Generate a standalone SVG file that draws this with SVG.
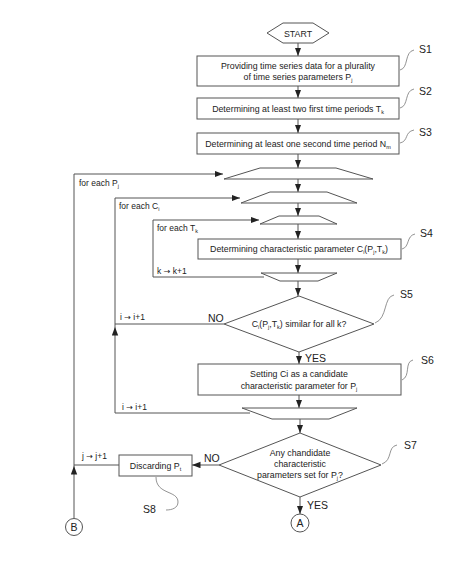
<svg xmlns="http://www.w3.org/2000/svg" width="474" height="572" viewBox="0 0 474 572">
<defs>
<marker id="ah" markerUnits="userSpaceOnUse" markerWidth="9" markerHeight="7" refX="8.5" refY="3.2" orient="auto">
<path d="M0,0 L8.5,3.2 L0,6.4 z" fill="#222"/>
</marker>
<style>
.s{fill:#fff;stroke:#555;stroke-width:1}
.c{fill:none;stroke:#555;stroke-width:1}
.a{fill:none;stroke:#555;stroke-width:1;marker-end:url(#ah)}
.q{fill:none;stroke:#777;stroke-width:0.8}
text{font-family:"Liberation Sans",Arial,sans-serif;fill:#222}
.t{font-size:8.8px;text-anchor:middle}
.l{font-size:8.5px}
.b{font-size:10.5px}
.sub{font-size:5.5px}
.ar{font-family:"DejaVu Sans",sans-serif;font-size:8px}
</style>
</defs>
<rect width="474" height="572" fill="#fff"/>

<g id="connectors">
<line class="a" x1="298" y1="43" x2="298" y2="56"/>
<line class="a" x1="298" y1="86" x2="298" y2="98"/>
<line class="a" x1="298" y1="119" x2="298" y2="133"/>
<line class="a" x1="298" y1="154" x2="298" y2="168"/>
<line class="a" x1="298" y1="179" x2="298" y2="192"/>
<line class="a" x1="298" y1="203" x2="298" y2="216"/>
<line class="a" x1="298" y1="224" x2="298" y2="239"/>
<line class="a" x1="298" y1="259" x2="298" y2="273"/>
<line class="a" x1="298" y1="281" x2="298" y2="296"/>
<line class="a" x1="299" y1="352" x2="299" y2="364"/>
<line class="a" x1="299" y1="395" x2="299" y2="408"/>
<line class="a" x1="300" y1="419" x2="300" y2="433"/>
<line class="a" x1="300" y1="497" x2="300" y2="514"/>
<line class="a" x1="219" y1="465" x2="192" y2="465"/>
<!-- Pj loop -->
<line class="a" x1="74" y1="518" x2="74" y2="466"/>
<polyline class="a" points="74,466 74,174 223,174"/>
<line class="c" x1="119" y1="465" x2="74" y2="465"/>
<!-- Ci loop -->
<polyline class="a" points="250,413 115,413 115,327"/>
<polyline class="a" points="115,327 115,198 240,198"/>
<line class="c" x1="224" y1="324" x2="115" y2="324"/>
<!-- Tk loop -->
<polyline class="a" points="264,277 153,277 153,220 259,220"/>
</g>

<g id="start">
<polygon class="s" points="267,33 283,23 313,23 329,33 313,43 283,43"/>
<text class="t" x="298" y="36.5">START</text>
</g>

<g id="s1">
<rect class="s" x="197" y="56" width="202" height="30"/>
<text class="t" x="298" y="68.5">Providing time series data for a plurality</text>
<text class="t" x="298" y="79.5">of time series parameters P<tspan class="sub" dy="2">j</tspan></text>
<path class="q" d="M400,70 C409,68 404,52 414,50"/>
<text class="b" x="419" y="53">S1</text>
</g>

<g id="s2">
<rect class="s" x="197" y="98" width="202" height="21"/>
<text class="t" x="298" y="111.5">Determining at least two first time periods T<tspan class="sub" dy="2">k</tspan></text>
<path class="q" d="M400,108 C409,106 404,91 414,89"/>
<text class="b" x="419" y="95">S2</text>
</g>

<g id="s3">
<rect class="s" x="197" y="133" width="202" height="21"/>
<text class="t" x="298" y="146.5">Determining at least one second time period N<tspan class="sub" dy="2">m</tspan></text>
<path class="q" d="M400,143 C409,141 404,132 414,130"/>
<text class="b" x="419" y="136">S3</text>
</g>

<g id="loopPj">
<polygon class="s" points="260,168 336,168 373,179 224,179"/>
<text class="l" x="79" y="186">for each P<tspan class="sub" dy="2">j</tspan></text>
</g>

<g id="loopCi">
<polygon class="s" points="270,192 327,192 357,203 241,203"/>
<text class="l" x="119" y="209">for each C<tspan class="sub" dy="2">i</tspan></text>
</g>

<g id="loopTk">
<polygon class="s" points="279,216 319,216 337,224 260,224"/>
<text class="l" x="157" y="231">for each T<tspan class="sub" dy="2">k</tspan></text>
</g>

<g id="s4">
<rect class="s" x="198" y="239" width="203" height="20"/>
<text class="t" x="299" y="251.5">Determining characteristic parameter C<tspan class="sub" dy="2">i</tspan><tspan dy="-2">(P</tspan><tspan class="sub" dy="2">j</tspan><tspan dy="-2">,T</tspan><tspan class="sub" dy="2">k</tspan><tspan dy="-2">)</tspan></text>
<path class="q" d="M402,249 C410,247 406,236 415,234"/>
<text class="b" x="420" y="237">S4</text>
</g>

<g id="endTk">
<polygon class="s" points="261,273 337,273 318,281 280,281"/>
<text class="l" x="157" y="274">k <tspan class="ar">→</tspan> k+1</text>
</g>

<g id="s5">
<polygon class="s" points="299,296 374,324 299,352 224,324"/>
<text class="t" x="299" y="327">C<tspan class="sub" dy="2">i</tspan><tspan dy="-2">(P</tspan><tspan class="sub" dy="2">j</tspan><tspan dy="-2">,T</tspan><tspan class="sub" dy="2">k</tspan><tspan dy="-2">) similar for all k?</tspan></text>
<path class="q" d="M375,323 C388,318 383,297 394,295"/>
<text class="b" x="400" y="298">S5</text>
<text class="b" x="208" y="322">NO</text>
<text class="l" x="120" y="320">i <tspan class="ar">→</tspan> i+1</text>
<text class="b" x="305" y="362">YES</text>
</g>

<g id="s6">
<rect class="s" x="198" y="364" width="203" height="31"/>
<text class="t" x="299" y="377">Setting Ci as a candidate</text>
<text class="t" x="299" y="388.5">characteristic parameter for P<tspan class="sub" dy="2">j</tspan></text>
<path class="q" d="M402,380 C411,376 404,362 413,360"/>
<text class="b" x="421" y="364">S6</text>
</g>

<g id="endCi">
<polygon class="s" points="242,408 357,408 329,419 272,419"/>
<text class="l" x="122" y="410">i <tspan class="ar">→</tspan> i+1</text>
</g>

<g id="s7">
<polygon class="s" points="300,433 381,465 300,497 219,465"/>
<text class="t" x="300" y="456">Any chandidate</text>
<text class="t" x="300" y="467">characteristic</text>
<text class="t" x="300" y="478">parameters set for P<tspan class="sub" dy="2">j</tspan><tspan dy="-2">?</tspan></text>
<path class="q" d="M382,464 C393,460 387,447 397,445"/>
<text class="b" x="404" y="449">S7</text>
<text class="b" x="204" y="462">NO</text>
<text class="b" x="307" y="509">YES</text>
</g>

<g id="s8">
<rect class="s" x="119" y="455" width="73" height="21"/>
<text class="t" x="155.5" y="468.5">Discarding P<tspan class="sub" dy="2">t</tspan></text>
<path class="q" d="M156,477 C156,495 178,490 178,502 C178,508 172,510 166,510"/>
<text class="b" x="143" y="513">S8</text>
<text class="l" x="82" y="459">j <tspan class="ar">→</tspan> j+1</text>
</g>

<g id="connA">
<circle class="s" cx="300" cy="523" r="9"/>
<text class="b" x="300" y="527" text-anchor="middle">A</text>
</g>

<g id="connB">
<circle class="s" cx="74" cy="527" r="8.5"/>
<text class="b" x="74" y="531" text-anchor="middle">B</text>
</g>
</svg>
